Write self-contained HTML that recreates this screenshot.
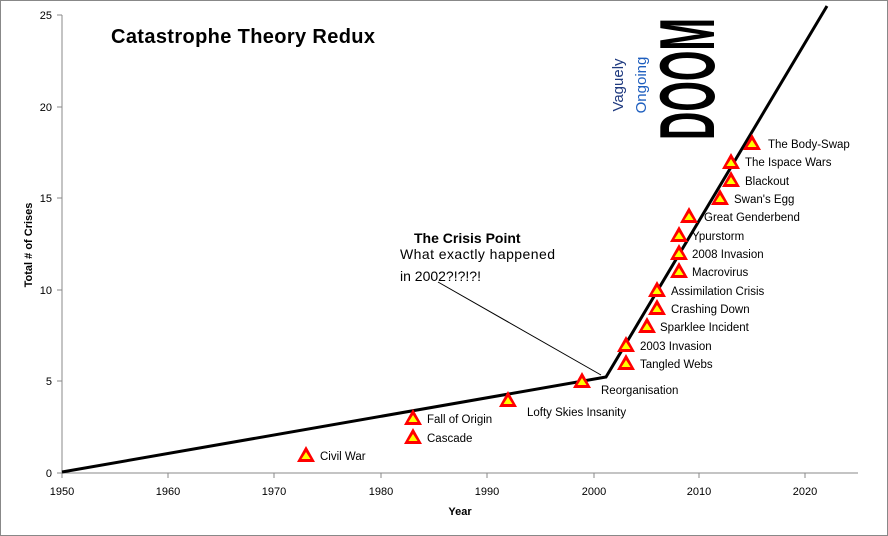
<!DOCTYPE html>
<html><head><style>
body{margin:0;background:#fff}
svg{display:block}
text{font-family:"Liberation Sans",sans-serif;fill:#000}
</style></head><body>
<svg width="888" height="536" viewBox="0 0 888 536" xmlns="http://www.w3.org/2000/svg">
<rect x="0.5" y="0.5" width="887" height="535" fill="#fff" stroke="#888"/>
<g stroke="#888" stroke-width="1">
<line x1="62" y1="15" x2="62" y2="473"/>
<line x1="62" y1="473" x2="858" y2="473"/>
<line x1="57" y1="15" x2="62" y2="15"/><line x1="57" y1="107" x2="62" y2="107"/>
<line x1="57" y1="198" x2="62" y2="198"/><line x1="57" y1="290" x2="62" y2="290"/>
<line x1="57" y1="381" x2="62" y2="381"/><line x1="57" y1="473" x2="62" y2="473"/>
<line x1="62" y1="473" x2="62" y2="478"/><line x1="168" y1="473" x2="168" y2="478"/>
<line x1="274" y1="473" x2="274" y2="478"/><line x1="381" y1="473" x2="381" y2="478"/>
<line x1="487" y1="473" x2="487" y2="478"/><line x1="594" y1="473" x2="594" y2="478"/>
<line x1="699" y1="473" x2="699" y2="478"/><line x1="805" y1="473" x2="805" y2="478"/>
</g>
<g font-size="11" text-anchor="end">
<text x="52" y="19">25</text><text x="52" y="111">20</text><text x="52" y="202">15</text>
<text x="52" y="294">10</text><text x="52" y="385">5</text><text x="52" y="477">0</text>
</g>
<g font-size="11" text-anchor="middle">
<text x="62" y="495">1950</text><text x="168" y="495">1960</text><text x="274" y="495">1970</text>
<text x="381" y="495">1980</text><text x="487" y="495">1990</text><text x="594" y="495">2000</text>
<text x="699" y="495">2010</text><text x="805" y="495">2020</text>
</g>
<text x="460" y="515" font-size="11" font-weight="bold" text-anchor="middle">Year</text>
<text transform="translate(32,245) rotate(-90)" font-size="11" font-weight="bold" text-anchor="middle">Total # of Crises</text>
<text x="111" y="43" font-size="20" font-weight="bold" textLength="264">Catastrophe Theory Redux</text>
<polyline points="62,472 606,377 827,6" fill="none" stroke="#000" stroke-width="3"/>
<line x1="438" y1="282" x2="601" y2="375" stroke="#000" stroke-width="1"/>
<text x="414" y="243" font-size="14" font-weight="bold">The Crisis Point</text>
<text x="400" y="259" font-size="14" textLength="155">What exactly happened</text>
<text x="400" y="281" font-size="14">in 2002?!?!?!</text>
<text transform="translate(623,85) rotate(-90)" font-size="15" style="fill:#1f3a7f" text-anchor="middle">Vaguely</text>
<text transform="translate(646,85) rotate(-90)" font-size="15" style="fill:#1f5fbf" text-anchor="middle">Ongoing</text>
<text transform="translate(714,140) rotate(-90) scale(0.5,1)" font-size="78" font-weight="bold" textLength="244" lengthAdjust="spacingAndGlyphs">DOOM</text>
<defs><g id="m"><polygon points="0,-9 9,7 -9,7" fill="#f00"/><polygon points="0,-3 4.5,4 -4.5,4" fill="#ff0"/></g></defs>
<g>
<use href="#m" x="306" y="455"/><use href="#m" x="413" y="437"/><use href="#m" x="413" y="418"/>
<use href="#m" x="508" y="400"/><use href="#m" x="582" y="381"/><use href="#m" x="626" y="363"/>
<use href="#m" x="626" y="345"/><use href="#m" x="647" y="326"/><use href="#m" x="657" y="308"/>
<use href="#m" x="657" y="290"/><use href="#m" x="679" y="271"/><use href="#m" x="679" y="253"/>
<use href="#m" x="679" y="235"/><use href="#m" x="689" y="216"/><use href="#m" x="720" y="198"/>
<use href="#m" x="731" y="180"/><use href="#m" x="731" y="162"/><use href="#m" x="752" y="143"/>
</g>
<g font-size="11.5">
<text x="320" y="460">Civil War</text>
<text x="427" y="442">Cascade</text>
<text x="427" y="423">Fall of Origin</text>
<text x="527" y="416">Lofty Skies Insanity</text>
<text x="601" y="394">Reorganisation</text>
<text x="640" y="368">Tangled Webs</text>
<text x="640" y="350">2003 Invasion</text>
<text x="660" y="331">Sparklee Incident</text>
<text x="671" y="313">Crashing Down</text>
<text x="671" y="295">Assimilation Crisis</text>
<text x="692" y="276">Macrovirus</text>
<text x="692" y="258">2008 Invasion</text>
<text x="692" y="240">Ypurstorm</text>
<text x="704" y="221">Great Genderbend</text>
<text x="734" y="203">Swan's Egg</text>
<text x="745" y="185">Blackout</text>
<text x="745" y="166">The Ispace Wars</text>
<text x="768" y="148">The Body-Swap</text>
</g>
</svg>
</body></html>
